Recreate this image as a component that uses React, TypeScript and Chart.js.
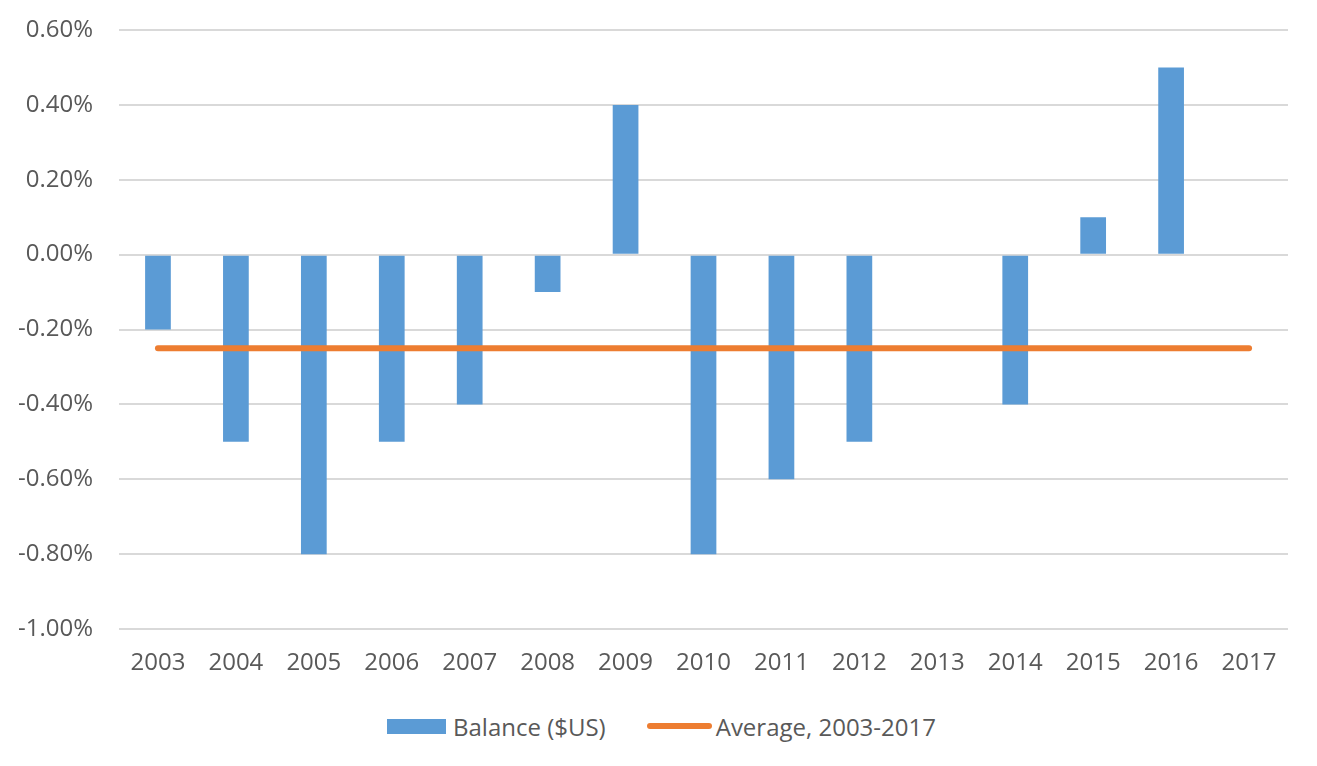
import React, { useEffect, useRef } from "react";
import { Chart, registerables } from "chart.js";

Chart.register(...registerables);

const years = ["2003","2004","2005","2006","2007","2008","2009","2010","2011","2012","2013","2014","2015","2016","2017"];
const balanceValues = [-0.2, -0.5, -0.8, -0.5, -0.4, -0.1, 0.4, -0.8, -0.6, -0.5, 0, -0.4, 0.1, 0.5, 0];
const averageValues = [-0.25, -0.25, -0.25, -0.25, -0.25, -0.25, -0.25, -0.25, -0.25, -0.25, -0.25, -0.25, -0.25, -0.25, -0.25];
const yMin = -1.0;
const yMax = 0.6;
const yStep = 0.2;
const balanceLabel = "Balance ($US)";
const averageLabel = "Average, 2003-2017";

const BLUE = "#5B9BD5";
const ORANGE = "#ED7D31";
const TEXT = "#595959";
const GRID = "#D9D9D9";
const FONT = "'Open Sans', sans-serif";

export default function App() {
  const ref = useRef<HTMLCanvasElement | null>(null);

  useEffect(() => {
    if (!ref.current) return;
    const chart = new Chart(ref.current, {
      type: "bar",
      data: {
        labels: years,
        datasets: [
          {
            type: "line",
            label: averageLabel,
            data: averageValues,
            borderColor: ORANGE,
            backgroundColor: ORANGE,
            borderWidth: 6,
            borderCapStyle: "round",
            pointRadius: 0,
            pointHoverRadius: 0,
            tension: 0,
            order: 0,
          } as any,
          {
            type: "bar",
            label: balanceLabel,
            data: balanceValues,
            backgroundColor: BLUE,
            borderWidth: 0,
            barPercentage: 0.33,
            categoryPercentage: 1,
            order: 1,
          } as any,
        ],
      },
      options: {
        animation: false,
        responsive: false,
        maintainAspectRatio: false,
        layout: { padding: { left: 0, right: 29, top: 30, bottom: 0 } },
        plugins: {
          legend: { display: false },
          tooltip: { enabled: false },
        },
        scales: {
          x: {
            grid: { display: false, drawTicks: false },
            border: { display: false },
            ticks: {
              color: TEXT,
              font: { family: FONT, size: 24 },
              padding: 20,
              maxRotation: 0,
              autoSkip: false,
            },
            afterFit: (scale: any) => {
              scale.height = 71;
              scale.paddingLeft = 0;
              scale.paddingRight = 0;
            },
          },
          y: {
            min: yMin,
            max: yMax,
            grid: { color: GRID, lineWidth: 2, drawTicks: false },
            border: { display: false },
            ticks: {
              stepSize: yStep,
              color: TEXT,
              font: { family: FONT, size: 24 },
              padding: 26,
              callback: (v: any) => {
                const n = Math.abs(Number(v)) < 1e-9 ? 0 : Number(v);
                return n.toFixed(2) + "%";
              },
            },
            afterFit: (scale: any) => {
              scale.width = 119;
              scale.paddingTop = 0;
              scale.paddingBottom = 0;
            },
          },
        },
      },
    });
    return () => chart.destroy();
  }, []);

  return (
    <div style={{ position: "absolute", left: 0, top: 0, width: 1317, height: 766, background: "#fff", fontFamily: FONT }}>
      <canvas ref={ref} width={1317} height={700} style={{ display: "block", width: 1317, height: 700 }} />
      <div
        style={{
          position: "absolute",
          left: 387,
          top: 706,
          height: 40,
          display: "flex",
          alignItems: "center",
          color: TEXT,
          fontSize: 24,
          whiteSpace: "nowrap",
        }}
      >
        <span style={{ display: "inline-block", width: 59, height: 15, background: BLUE, marginRight: 7 }} />
        <span>{balanceLabel}</span>
        <span style={{ display: "inline-block", width: 65, height: 6, borderRadius: 3, background: ORANGE, marginLeft: 41, marginRight: 4 }} />
        <span>{averageLabel}</span>
      </div>
    </div>
  );
}
